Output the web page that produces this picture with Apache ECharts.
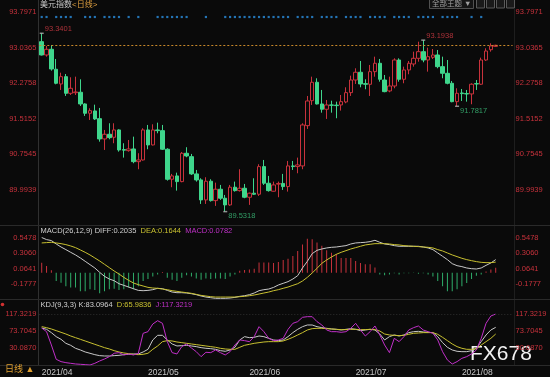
<!DOCTYPE html>
<html><head><meta charset="utf-8">
<script src="https://cdn.jsdelivr.net/npm/echarts@6/dist/echarts.min.js"></script>
<style>html,body{margin:0;padding:0;background:#0a0a0a;}#c{width:550px;height:377px;}</style>
</head><body><div id="c"></div>
<script>
// ---------- DATA ----------
const dates = [
'2021/04/01','2021/04/02','2021/04/05','2021/04/06','2021/04/07','2021/04/08','2021/04/09','2021/04/12','2021/04/13','2021/04/14','2021/04/15','2021/04/16','2021/04/19','2021/04/20','2021/04/21','2021/04/22','2021/04/23','2021/04/26','2021/04/27','2021/04/28','2021/04/29','2021/04/30',
'2021/05/03','2021/05/04','2021/05/05','2021/05/06','2021/05/07','2021/05/10','2021/05/11','2021/05/12','2021/05/13','2021/05/14','2021/05/17','2021/05/18','2021/05/19','2021/05/20','2021/05/21','2021/05/24','2021/05/25','2021/05/26','2021/05/27','2021/05/28','2021/05/31',
'2021/06/01','2021/06/02','2021/06/03','2021/06/04','2021/06/07','2021/06/08','2021/06/09','2021/06/10','2021/06/11','2021/06/14','2021/06/15','2021/06/16','2021/06/17','2021/06/18','2021/06/21','2021/06/22','2021/06/23','2021/06/24','2021/06/25','2021/06/28','2021/06/29','2021/06/30',
'2021/07/01','2021/07/02','2021/07/05','2021/07/06','2021/07/07','2021/07/08','2021/07/09','2021/07/12','2021/07/13','2021/07/14','2021/07/15','2021/07/16','2021/07/19','2021/07/20','2021/07/21','2021/07/22','2021/07/23','2021/07/26','2021/07/27','2021/07/28','2021/07/29','2021/07/30',
'2021/08/02','2021/08/03','2021/08/04','2021/08/05','2021/08/06','2021/08/09','2021/08/10','2021/08/11'];
const opens = [93.161,92.877,92.999,92.572,92.258,92.414,92.059,92.072,92.081,91.831,91.632,91.682,91.517,91.084,91.184,91.120,91.276,90.856,90.834,90.870,90.599,90.635,91.276,90.956,91.276,91.261,90.864,90.223,90.294,90.173,90.778,90.706,90.337,90.209,89.782,90.181,89.767,90.010,89.818,89.675,90.053,89.980,90.031,89.839,89.925,89.903,90.493,90.138,89.967,90.119,90.134,90.066,90.508,90.494,90.508,91.368,91.901,92.294,91.831,91.718,91.810,91.806,91.810,91.874,92.073,92.343,92.508,92.265,92.251,92.521,92.700,92.343,92.109,92.215,92.770,92.358,92.557,92.685,92.806,92.948,92.770,92.827,92.877,92.628,92.486,92.273,91.880,92.066,92.052,92.045,92.265,92.252,92.770,92.990,93.061];
const closes = [92.877,92.999,92.578,92.273,92.414,92.059,92.166,92.087,91.831,91.632,91.688,91.511,91.084,91.184,91.112,91.276,90.849,90.845,90.870,90.599,90.635,91.276,90.956,91.276,91.261,90.864,90.223,90.294,90.173,90.778,90.721,90.337,90.209,89.782,90.181,89.767,90.010,89.818,89.675,90.053,89.980,90.031,89.839,89.925,89.903,90.493,90.138,89.980,90.102,90.134,90.066,90.508,90.494,90.529,91.383,91.895,92.294,91.831,91.718,91.810,91.803,91.796,91.880,92.073,92.343,92.508,92.258,92.251,92.521,92.700,92.358,92.094,92.215,92.770,92.358,92.557,92.700,92.806,92.948,92.770,92.841,92.877,92.628,92.486,92.273,91.880,92.059,92.052,92.045,92.252,92.258,92.770,92.962,93.070,93.084];
const highs = [93.3401,93.069,93.090,92.792,92.499,92.471,92.401,92.414,92.358,91.846,91.739,91.816,91.746,91.276,91.419,91.419,91.290,90.992,91.062,91.133,90.779,91.312,91.383,91.397,91.432,91.383,90.885,90.337,90.364,90.806,90.907,90.764,90.422,90.244,90.266,90.223,90.151,90.102,89.888,90.102,90.173,90.437,90.123,89.938,90.244,90.544,90.635,90.294,90.173,90.173,90.337,90.614,90.614,90.685,91.419,92.002,92.414,92.379,92.130,91.916,91.901,91.880,92.023,92.187,92.435,92.593,92.749,92.358,92.664,92.841,92.792,92.450,92.414,92.806,92.806,92.628,92.749,92.948,93.161,93.1938,93.033,93.005,92.984,92.841,92.770,92.322,92.166,92.151,92.130,92.273,92.343,92.820,93.020,93.126,93.095];
const lows = [92.866,92.841,92.542,92.251,92.130,92.002,92.023,92.023,91.788,91.575,91.489,91.489,91.026,90.849,91.077,90.992,90.813,90.685,90.813,90.565,90.437,90.621,90.864,90.945,91.205,90.849,90.194,90.053,89.980,90.159,90.693,90.315,90.173,89.696,89.696,89.746,89.654,89.782,89.5318,89.654,89.959,89.959,89.818,89.675,89.888,89.867,90.102,89.959,89.959,89.839,89.995,89.959,90.422,90.351,90.437,91.297,91.810,91.820,91.645,91.511,91.645,91.526,91.689,91.846,92.002,92.258,92.187,92.145,92.002,92.414,92.307,92.081,92.081,92.166,92.307,92.273,92.465,92.628,92.734,92.721,92.521,92.792,92.593,92.380,92.251,91.867,91.7817,91.895,91.880,91.825,92.130,92.237,92.749,92.948,93.050];
const diffVals = [0.5478,0.515,0.500,0.447,0.400,0.359,0.317,0.276,0.229,0.177,0.125,0.073,0.005,-0.057,-0.099,-0.125,-0.172,-0.198,-0.224,-0.250,-0.276,-0.281,-0.276,-0.265,-0.244,-0.250,-0.276,-0.302,-0.312,-0.312,-0.317,-0.328,-0.343,-0.364,-0.380,-0.390,-0.400,-0.400,-0.400,-0.395,-0.385,-0.369,-0.359,-0.343,-0.317,-0.281,-0.265,-0.255,-0.230,
-0.192,-0.166,-0.140,-0.099,-0.047,0.073,0.177,0.296,0.348,0.369,0.385,0.395,0.400,0.411,0.421,0.447,0.463,0.468,0.473,0.484,0.504,0.473,0.447,0.437,0.421,0.411,0.411,0.411,0.411,0.411,0.400,0.385,0.359,0.307,0.255,0.203,0.140,0.109,0.094,0.073,0.062,0.057,0.073,0.114,0.151,0.2035];
const deaVals = [0.463,0.468,0.473,0.463,0.452,0.437,0.416,0.390,0.354,0.317,0.276,0.229,0.182,0.130,0.078,0.026,-0.021,-0.073,-0.120,-0.161,-0.187,-0.208,-0.229,-0.239,-0.244,-0.255,-0.265,-0.281,-0.291,-0.302,-0.312,-0.322,-0.338,-0.354,-0.364,-0.374,-0.380,-0.380,-0.380,-0.380,-0.380,-0.374,-0.369,-0.359,-0.348,-0.333,-0.317,-0.302,-0.281,
-0.265,-0.244,-0.224,-0.198,-0.172,-0.130,-0.073,-0.005,0.068,0.146,0.198,0.244,0.286,0.317,0.343,0.369,0.390,0.411,0.432,0.442,0.452,0.452,0.452,0.447,0.437,0.432,0.421,0.416,0.411,0.406,0.400,0.395,0.385,0.359,0.338,0.307,0.276,0.250,0.224,0.203,0.187,0.172,0.161,0.156,0.156,0.1644];
const macdVals = [0.156,0.104,0.036,-0.13,-0.156,-0.21,-0.23,-0.23,-0.29,-0.29,-0.26,-0.27,-0.32,-0.29,-0.26,-0.25,-0.27,-0.26,-0.23,-0.26,-0.21,-0.13,-0.10,-0.06,-0.03,0.01,-0.08,-0.11,-0.13,-0.08,-0.04,-0.06,-0.09,-0.11,-0.09,-0.10,-0.09,-0.09,-0.10,-0.06,-0.03,0.03,0.04,0.05,0.06,0.16,0.16,0.16,0.15,0.166,0.198,0.218,0.26,0.338,0.44,0.53,0.52,0.47,0.42,0.35,0.31,0.29,0.23,0.23,0.23,0.18,0.15,0.13,0.13,0.08,-0.03,-0.04,-0.03,-0.01,-0.03,-0.01,-0.01,-0.005,-0.015,-0.01,-0.03,-0.06,-0.13,-0.21,-0.29,-0.29,-0.26,-0.21,-0.16,-0.10,-0.05,-0.03,0.02,0.05,0.0782];
const kVals = [81.4,78.0,69.5,59.2,52.4,42.1,37.0,29.3,25.0,19.9,16.5,13.0,10.5,9.6,9.6,10.5,11.3,13.0,13.9,14.8,14.8,19.9,26.7,50.7,62.6,62.6,50.7,40.4,35.3,36.1,37.0,35.3,33.6,31.0,29.3,28.4,26.7,23.3,21.6,25.0,31.9,50.7,59.2,56.6,57.5,60.9,59.2,54.9,50.7,
49.0,50.7,59.2,69.5,78.0,84.8,89.1,89.1,84.8,82.3,80.6,78.9,78.0,76.3,78.0,79.7,78.0,74.6,76.3,78.0,76.3,66.0,50.7,59.2,63.5,60.9,63.5,69.5,72.0,72.9,71.2,70.3,69.5,59.2,43.8,31.9,25.0,21.6,20.7,20.7,23.3,29.3,46.4,63.5,76.3,83.0964];
const dVals = [84.8,82.3,78.9,74.6,70.3,66.0,60.9,56.6,52.4,48.1,43.8,39.5,35.3,31.0,27.6,23.3,19.9,17.3,15.6,13.9,13.0,13.9,16.5,26.7,35.3,46.4,49.0,48.1,45.5,43.8,42.1,40.4,38.7,37.0,35.3,33.6,31.9,29.3,27.6,26.7,26.7,31.9,37.0,39.5,42.1,43.8,45.5,46.4,46.4,
46.4,48.1,52.4,57.5,63.5,69.5,76.3,79.7,80.6,80.6,79.7,78.9,78.0,77.2,77.2,78.0,78.0,77.2,77.2,78.0,77.2,73.7,66.0,63.5,62.6,61.8,62.6,65.2,67.8,68.6,69.5,69.5,69.5,65.2,57.5,49.0,40.4,33.6,29.3,26.7,26.7,28.4,37.8,46.4,54.9,65.9836];
const jVals = [81.4,72.0,37.8,1.1,-4.9,-7.5,-9.2,-10.9,-11.7,-12.6,-13.53,-9.2,-3.2,1.9,7.9,16.5,18.2,12.2,14.8,12.2,16.5,67.8,72.0,91.7,100.2,93.4,46.4,18.2,14.8,33.6,40.4,30.1,20.7,7.9,19.1,18.2,25.0,18.2,12.2,20.7,37.8,50.7,49.0,46.4,59.2,84.8,72.0,54.9,49.0,
50.7,54.9,78.0,93.4,97.7,108.8,110.5,110.5,97.7,89.1,76.3,72.0,72.0,70.3,72.0,80.6,93.4,76.3,60.9,72.0,86.6,63.5,37.8,18.2,54.9,46.4,59.2,76.3,82.3,86.6,76.3,72.0,67.8,50.7,20.7,-0.6,-10.9,-4.9,3.6,7.9,14.8,25.0,54.9,93.4,112.2,117.3219];
const signalIdx = [0,1,3,4,5,6,9,10,11,13,14,15,16,18,20,24,25,26,27,28,29,30,34,38,39,40,41,42,43,44,45,46,47,48,49,50,51,53,54,55,56,58,59,60,61,63,64,65,66,68,69,70,71,73,74,75,76,78,79,80,81,83,84,85,86,89,91];
const extremes = [{i:0,type:'high'},{i:79,type:'high'},{i:38,type:'low'},{i:86,type:'low'}];
const priceTicks = [93.7971,93.0365,92.2758,91.5152,90.7545,89.9939];
const priceRange = [89.2333,93.7971];
const macdTicks = [0.5478,0.3060,0.0641,-0.1777];
const macdRange = [-0.4196,0.5478];
const kdjTicks = [117.3219,73.7045,30.0870];
const kdjRange = [-13.53,117.3219];

// ---------- CHART ----------
const RED='#c8323c', GREEN='#3fd68c', BG='#0a0a0a', TXT='#c8c8c8', YEL='#c8c030', MAG='#c030c8';
const FONT='"Liberation Sans","Noto Sans CJK SC",sans-serif';
const N = dates.length;
const cats = dates.concat(['','','']);
const GL = 39.3, GW = 473.3;
const chart = echarts.init(document.getElementById('c'), null, {renderer:'canvas', width:550, height:377});

function xAx(gi, showLabel){
  const monthStart = {};
  dates.forEach((d,i)=>{ if(i===0 || d.slice(0,7)!==dates[i-1].slice(0,7)) monthStart[i]=true; });
  return {type:'category', gridIndex:gi, data:cats, boundaryGap:true,
    axisLine:{show:false}, axisTick:{show:false}, splitLine:{show:false},
    axisLabel:{show:showLabel, interval:(idx)=>!!monthStart[idx], formatter:v=>v.slice(0,7),
      color:TXT, fontSize:8.5, fontFamily:FONT, align:'left', margin:3}};
}
function yAx(gi, range, ticks, pos){
  return {type:'value', gridIndex:gi, position:pos, min:range[0], max:range[1],
    axisLine:{show:false}, axisTick:{show:false}, splitLine:{show:false},
    axisLabel:{show:!!ticks, customValues:ticks||[], color:RED, fontSize:7.5, fontFamily:FONT, margin:3,
      formatter:v=>Number(v).toFixed(4)}};
}
const grid = (top,h)=>({left:GL, top:top, width:GW, height:h, outerBoundsMode:'none', containLabel:false});

const candleData = dates.map((d,i)=>[opens[i], closes[i], lows[i], highs[i]]);
const extremeData = extremes.map(e=>({value:[e.i, e.type==='high'?highs[e.i]:lows[e.i]],
  label:{color: e.type==='high'?'#d83c46':'#3cc07c', offset:[0, e.type==='high'?-4.5:4.5]}}));
const last = N-1;

const option = {
  backgroundColor: BG, animation:false,
  grid:[grid(11.9,213.7), grid(14,6), grid(237.5,62.1), grid(314,51)],
  xAxis:[xAx(0,false), xAx(1,false), xAx(2,false), xAx(3,true)],
  yAxis:[yAx(0,priceRange,priceTicks,'left'), yAx(0,priceRange,priceTicks,'right'),
         {type:'value',gridIndex:1,min:-1,max:1,show:false},
         yAx(2,macdRange,macdTicks,'left'), yAx(2,macdRange,macdTicks,'right'),
         yAx(3,kdjRange,kdjTicks,'left'), yAx(3,kdjRange,kdjTicks,'right')],
  series:[
    {type:'candlestick', xAxisIndex:0, yAxisIndex:0, data:candleData, barWidth:4,
      itemStyle:{color:BG, color0:GREEN, borderColor:RED, borderColor0:GREEN, borderWidth:1},
      markLine:{silent:true, symbol:'none', label:{show:false},
        lineStyle:{color:'#c8882a', type:[2,2], width:1}, data:[{yAxis:closes[last]}]}},
    {type:'scatter', xAxisIndex:0, yAxisIndex:0, data:extremeData, symbol:'rect', symbolSize:[4,1.5],
      itemStyle:{color:'#b0b0b0'},
      label:{show:true, position:'right', distance:1, fontSize:7.5, fontFamily:FONT,
        formatter:p=>p.value[1].toFixed(4)}},
    {type:'scatter', xAxisIndex:1, yAxisIndex:2, data:signalIdx.map(i=>[i,0]), symbol:'rect', symbolSize:2.2,
      itemStyle:{color:'#2a8fe0'}},
    {type:'bar', xAxisIndex:2, yAxisIndex:3, data:macdVals, barWidth:1,
      itemStyle:{color:p=>p.value>=0?RED:'#2fae6a'}},
    {type:'line', xAxisIndex:2, yAxisIndex:3, data:diffVals, symbol:'none', lineStyle:{color:TXT,width:1},
      markLine:{silent:true,symbol:'none',label:{show:false},lineStyle:{color:'#2e2e2e',type:[1,2],width:1},data:[{yAxis:macdTicks[0]}]}},
    {type:'line', xAxisIndex:2, yAxisIndex:3, data:deaVals, symbol:'none', lineStyle:{color:YEL,width:1}},
    {type:'line', xAxisIndex:3, yAxisIndex:5, data:kVals, symbol:'none', lineStyle:{color:TXT,width:1},
      markLine:{silent:true,symbol:'none',label:{show:false},lineStyle:{color:'#2e2e2e',type:[1,2],width:1},data:[{yAxis:kdjTicks[0]}]}},
    {type:'line', xAxisIndex:3, yAxisIndex:5, data:dVals, symbol:'none', lineStyle:{color:YEL,width:1}},
    {type:'line', xAxisIndex:3, yAxisIndex:5, data:jVals, symbol:'none', lineStyle:{color:MAG,width:1}}
  ],
  graphic:[
    {type:'line', shape:{x1:38.5,y1:0,x2:38.5,y2:366}, style:{stroke:'#303030',lineWidth:1}, silent:true},
    {type:'line', shape:{x1:514.5,y1:9,x2:514.5,y2:366}, style:{stroke:'#1e1e1e',lineWidth:1}, silent:true},
    {type:'line', shape:{x1:0,y1:225.5,x2:550,y2:225.5}, style:{stroke:'#2a2a2a',lineWidth:1}, silent:true},
    {type:'line', shape:{x1:0,y1:299.5,x2:550,y2:299.5}, style:{stroke:'#2a2a2a',lineWidth:1}, silent:true},
    {type:'line', shape:{x1:0,y1:365.5,x2:550,y2:365.5}, style:{stroke:'#2a2a2a',lineWidth:1}, silent:true},
    {type:'text', left:40, top:0.5, style:{text:'{a|美元指数}{b|<日线>}', font:'8px '+FONT,
      rich:{a:{fill:'#c8c8c8',fontSize:8,fontFamily:FONT}, b:{fill:'#e0a040',fontSize:8,fontFamily:FONT}}}},
    {type:'rect', shape:{x:429.5,y:-0.5,width:44,height:9}, style:{fill:'#151515',stroke:'#505050',lineWidth:1}},
    {type:'text', left:432, top:0, style:{text:'全部主题 ▼', fill:'#a0a0a0', font:'7.5px '+FONT}},
    {type:'rect', shape:{x:476.5,y:-0.5,width:8,height:8.5}, style:{fill:'#1a1a1a',stroke:'#5a5a5a',lineWidth:1}},
    {type:'rect', shape:{x:486.5,y:-0.5,width:8,height:8.5}, style:{fill:'#1a1a1a',stroke:'#5a5a5a',lineWidth:1}},
    {type:'rect', shape:{x:496.5,y:-0.5,width:8,height:8.5}, style:{fill:'#1a1a1a',stroke:'#5a5a5a',lineWidth:1}},
    {type:'rect', shape:{x:506.5,y:-0.5,width:8,height:8.5}, style:{fill:'#1a1a1a',stroke:'#5a5a5a',lineWidth:1}},
    {type:'text', left:40.5, top:227, style:{
      text:'{w|MACD(26,12,9) DIFF:'+diffVals[last].toFixed(4)+'}  {y|DEA:'+deaVals[last].toFixed(4)+'}  {m|MACD:'+macdVals[last].toFixed(4)+'}',
      font:'7.5px '+FONT, rich:{w:{fill:'#d0d0d0',fontSize:7.5,fontFamily:FONT}, y:{fill:YEL,fontSize:7.5,fontFamily:FONT}, m:{fill:MAG,fontSize:7.5,fontFamily:FONT}}}},
    {type:'text', left:40.5, top:301.5, style:{
      text:'{w|KDJ(9,3,3) K:'+kVals[last].toFixed(4)+'}  {y|D:'+dVals[last].toFixed(4)+'}  {m|J:'+jVals[last].toFixed(4)+'}',
      font:'7.5px '+FONT, rich:{w:{fill:'#d0d0d0',fontSize:7.5,fontFamily:FONT}, y:{fill:YEL,fontSize:7.5,fontFamily:FONT}, m:{fill:MAG,fontSize:7.5,fontFamily:FONT}}}},
    {type:'circle', shape:{cx:2.5,cy:304.5,r:1.8}, style:{fill:'#d03030'}},
    {type:'text', left:5, top:365.5, style:{text:'日线 ▲', fill:'#e0a030', font:'9px '+FONT}},
    {type:'text', left:470, top:344, style:{text:'FX678', fill:'#f2f2f2', font:'21px '+FONT}}
  ]
};
chart.setOption(option);
</script></body></html>
